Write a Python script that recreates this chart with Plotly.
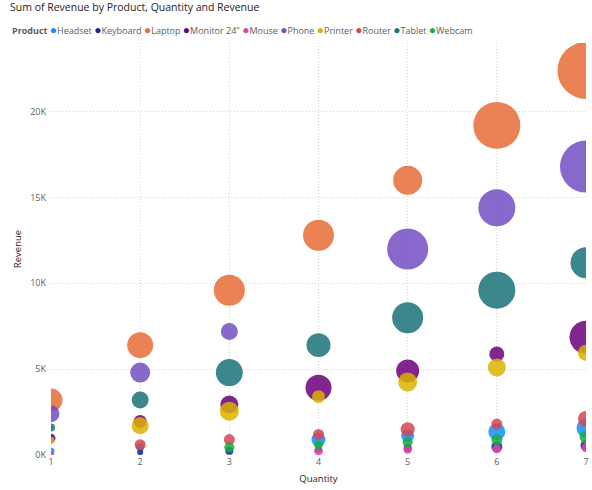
import plotly.graph_objects as go

# ---------------- data ----------------
products = ["Headset", "Keyboard", "Laptop", "Monitor 24\"", "Mouse",
            "Phone", "Printer", "Router", "Tablet", "Webcam"]
colors = ["#118DFF", "#12239E", "#E66C37", "#6B007B", "#E044A7",
          "#744EC2", "#D9B300", "#D64550", "#197278", "#1AAB40"]

headset_qty = [1, 2, 4, 5, 6, 7]
headset_rev = [225, 450, 900, 1125, 1350, 1575]
headset_sum = [1700, 2200, 6800, 5800, 10000, 12500]

keyboard_qty = [2, 3, 4, 5, 6, 7]
keyboard_rev = [160, 240, 320, 400, 480, 560]
keyboard_sum = [1250, 2200, 1700, 2200, 4200, 4200]

laptop_qty = [1, 2, 3, 4, 5, 6, 7]
laptop_rev = [3200, 6400, 9600, 12800, 16000, 19200, 22400]
laptop_sum = [18300, 23400, 33300, 33300, 29100, 76400, 112400]

monitor_qty = [1, 2, 3, 4, 5, 6, 7]
monitor_rev = [980, 1960, 2940, 3920, 4900, 5880, 6860]
monitor_sum = [2800, 5800, 11200, 23400, 18300, 7800, 37700]

mouse_qty = [1, 4, 5, 6, 7]
mouse_rev = [60, 240, 300, 360, 420]
mouse_sum = [1250, 2800, 2200, 2800, 2800]

phone_qty = [1, 2, 3, 5, 6, 7]
phone_rev = [2400, 4800, 7200, 12000, 14400, 16800]
phone_sum = [10000, 13800, 10000, 58200, 47400, 93600]

printer_qty = [1, 2, 3, 4, 5, 6, 7]
printer_rev = [850, 1700, 2550, 3400, 4250, 5100, 5950]
printer_sum = [1700, 10000, 12500, 5800, 12500, 11200, 8900]

router_qty = [2, 3, 4, 5, 6, 7]
router_rev = [600, 900, 1200, 1500, 1800, 2100]
router_sum = [4200, 4200, 4200, 6800, 4200, 8900]

tablet_qty = [1, 2, 3, 4, 5, 6, 7]
tablet_rev = [1600, 3200, 4800, 6400, 8000, 9600, 11200]
tablet_sum = [2200, 10000, 25200, 19900, 33300, 47400, 33300]

webcam_qty = [3, 4, 5, 6, 7]
webcam_rev = [450, 600, 750, 900, 1050]
webcam_sum = [3500, 2800, 3500, 4200, 5800]

y_tickvals = [0, 5000, 10000, 15000, 20000]
y_ticktext = ["0K", "5K", "10K", "15K", "20K"]
x_tickvals = [1, 2, 3, 4, 5, 6, 7]

series = [
    (headset_qty, headset_rev, headset_sum),
    (keyboard_qty, keyboard_rev, keyboard_sum),
    (laptop_qty, laptop_rev, laptop_sum),
    (monitor_qty, monitor_rev, monitor_sum),
    (mouse_qty, mouse_rev, mouse_sum),
    (phone_qty, phone_rev, phone_sum),
    (printer_qty, printer_rev, printer_sum),
    (router_qty, router_rev, router_sum),
    (tablet_qty, tablet_rev, tablet_sum),
    (webcam_qty, webcam_rev, webcam_sum),
]

# ---------------- figure ----------------
FONT = "Segoe UI, Open Sans, sans-serif"
max_sum = max(max(s[2]) for s in series)
sizeref = 2.0 * max_sum / (57 ** 2)

fig = go.Figure()
for name, col, (q, r, s) in zip(products, colors, series):
    fig.add_trace(go.Scatter(
        x=q, y=r, mode="markers", name=name, showlegend=False,
        marker=dict(size=s, sizemode="area", sizeref=sizeref, color=col,
                    opacity=0.85, line=dict(width=0)),
        cliponaxis=True,
    ))

W, H = 592, 490
L, R, T, B = 51, 6, 43, 35
GRID = "#D6D6D6"

legend_parts = ["<b>Product</b>&nbsp;"]
for name, col in zip(products, colors):
    legend_parts.append(
        f"<span style='color:{col};font-size:12px'>●</span>{name}&nbsp;")
legend_text = "".join(legend_parts)

fig.update_layout(
    width=W, height=H,
    margin=dict(l=L, r=R, t=T, b=B, autoexpand=False),
    paper_bgcolor="white", plot_bgcolor="white",
    font=dict(family=FONT, color="#605E5C"),
    title=dict(text="Sum of Revenue by Product, Quantity and Revenue",
               x=10 / W, xref="container", xanchor="left",
               y=1 - 7 / H, yref="container", yanchor="middle",
               pad=dict(l=0, r=0, t=0, b=0),
               font=dict(family=FONT, size=10.5, color="#252423")),
    xaxis=dict(range=[1, 7], tickvals=x_tickvals, showgrid=True,
               gridcolor=GRID, griddash="1px,2px", gridwidth=1,
               zeroline=False, showline=False, ticks="", automargin=False,
               tickfont=dict(size=9, color="#605E5C"),
               title=dict(text="Quantity", standoff=8,
                          font=dict(size=9.5, color="#252423"))),
    yaxis=dict(range=[0, 24000], tickvals=y_tickvals, ticktext=y_ticktext,
               showgrid=True, gridcolor=GRID, griddash="1px,2px",
               gridwidth=1, zeroline=False, showline=False, ticks="",
               ticklabelstandoff=4, automargin=False,
               tickfont=dict(size=9, color="#605E5C"),
               title=dict(text="Revenue", standoff=6,
                          font=dict(size=9.5, color="#252423"))),
    annotations=[dict(
        text=legend_text, xref="paper", yref="paper",
        x=-(L - 10) / (W - L - R), y=1 + (T - 29) / (H - T - B),
        xanchor="left", yanchor="middle", showarrow=False,
        font=dict(family=FONT, size=9, color="#605E5C"),
    )],
)

fig.write_html("out.html",
               config={"displayModeBar": False},
               post_script="document.body.style.margin='0';")
